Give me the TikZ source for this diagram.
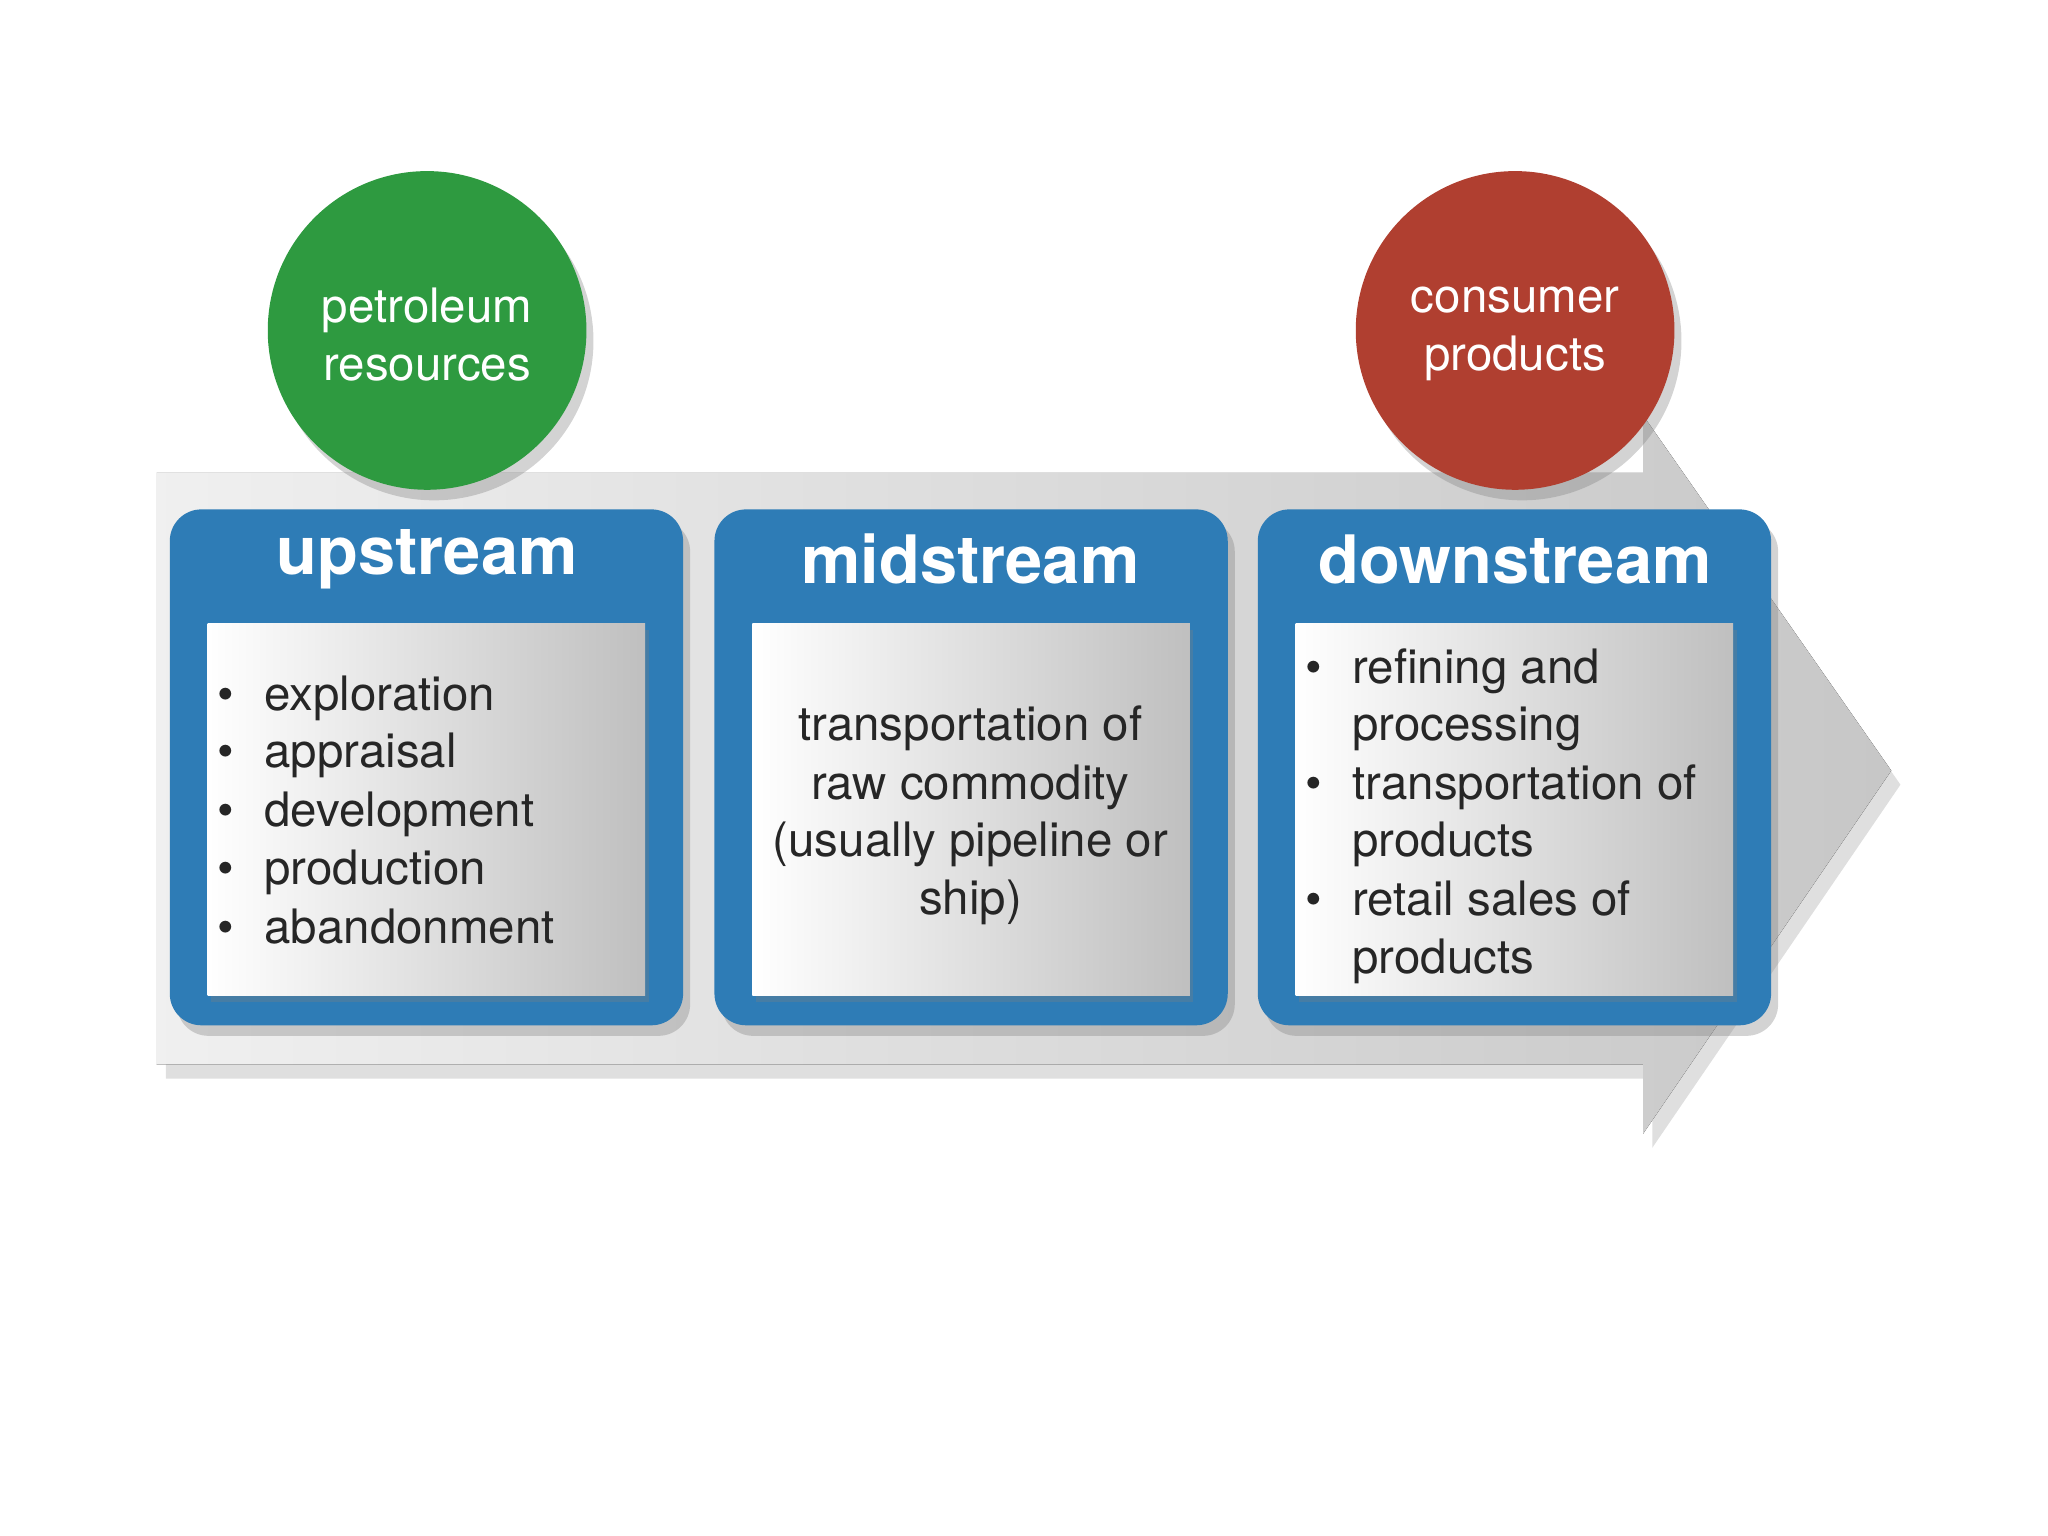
\documentclass[tikz,border=0pt]{standalone}
\usepackage{fontspec}
\setmainfont{TeX Gyre Heros}
\usetikzlibrary{shadows}
\definecolor{boxblue}{HTML}{2E7CB6}
\definecolor{cgreen}{HTML}{2E9A40}
\definecolor{cred}{HTML}{B03F30}
\begin{document}
\begin{tikzpicture}[x=0.013061cm,y=-0.013061cm,
  outer/.style={fill=boxblue,rounded corners=9pt,drop shadow={opacity=0.35,shadow xshift=2pt,shadow yshift=-3pt}},
  inner/.style={left color=white,right color=black!25,drop shadow={opacity=0.3,shadow xshift=1pt,shadow yshift=-2pt}},
  ttl/.style={font=\fontsize{19}{22}\selectfont\bfseries,text=white},
  body/.style={font=\fontsize{13.5}{16.5}\selectfont,text=black!85,anchor=base west,inner sep=0pt},
  ctext/.style={font=\fontsize{13.5}{16.5}\selectfont,text=white,align=center},
  circ/.style={circle,minimum size=244\pgflinewidth,drop shadow={opacity=0.35,shadow xshift=2pt,shadow yshift=-3pt}}]
\useasboundingbox (0,0) rectangle (1568,1176);
% big arrow
\fill[left color=black!6,right color=black!22,drop shadow={opacity=0.25,shadow yshift=-4pt}]
 (120,362) -- (1258,362) -- (1258,318) -- (1448,590) -- (1258,868) -- (1258,815) -- (120,815) -- cycle;
% blue boxes
\path[outer] (130,390) rectangle (523,785);
\path[outer] (547,390) rectangle (940,785);
\path[outer] (963,390) rectangle (1356,785);
\node[ttl] (t1) at (327,428) {upstream};
\node[ttl] (t2) at (743,428) {midstream};
\node[ttl] (t3) at (1160,428) {downstream};
\path[inner] (159,477) rectangle (494,762);
\path[inner] (576,477) rectangle (911,762);
\path[inner] (992,477) rectangle (1327,762);
% upstream list
\foreach \y/\t [count=\i] in {544/exploration,588/appraisal,633/development,677/production,722/abandonment}{
  \node[body] (ub\i) at (166,\y) {\textbullet};
  \node[body] (ut\i) at (202,\y) {\t};
}
% midstream
\foreach \y/\t [count=\i] in {567/transportation of,612/raw commodity,656/(usually pipeline or,700/ship)}{
  \node[body,anchor=base] (m\i) at (743,\y) {\t};
}
% downstream
\foreach \y/\t [count=\i] in {523/refining and,567/processing,612/transportation of,656/products,701/retail sales of,745/products}{
  \node[body] (dt\i) at (1035,\y) {\t};
}
\node[body] (db1) at (999,523) {\textbullet};
\node[body] (db2) at (999,612) {\textbullet};
\node[body] (db3) at (999,701) {\textbullet};
% circles
\fill[cgreen,drop shadow={opacity=0.35,shadow xshift=2pt,shadow yshift=-3pt}] (327,253) circle (122);
\fill[cred,drop shadow={opacity=0.35,shadow xshift=2pt,shadow yshift=-3pt}] (1160,253) circle (122);
\node[ctext] (c1) at (327,256) {petroleum\\resources};
\node[ctext] (c2) at (1160,256) {consumer\\products};
\end{tikzpicture}
\end{document}
